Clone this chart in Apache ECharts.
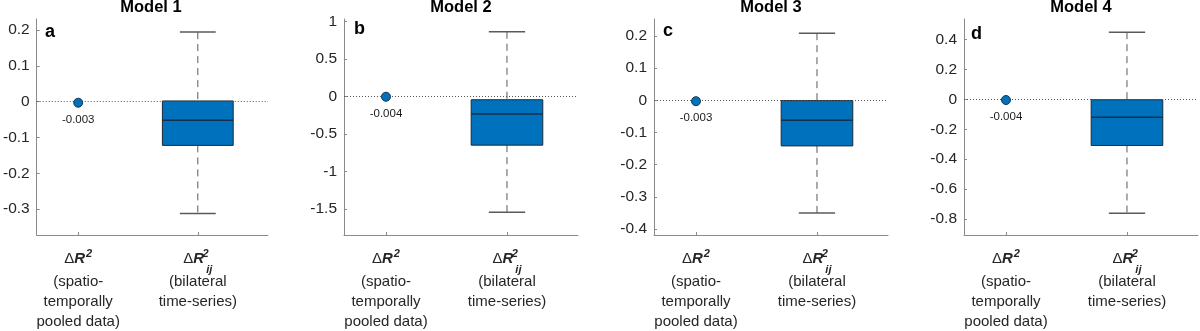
<!DOCTYPE html>
<html><head><meta charset="utf-8">
<script src="https://cdn.jsdelivr.net/npm/echarts@6/dist/echarts.min.js"></script>
<style>html,body{margin:0;padding:0;background:#fff}#c{width:1200px;height:331px}</style>
</head><body><div id="c"></div>
<script>
// ---- data ----
const titles = ['Model 1', 'Model 2', 'Model 3', 'Model 4'];
const letters = ['a', 'b', 'c', 'd'];
const pointValues = [-0.003, -0.004, -0.003, -0.004];
const pointLabels = ['-0.003', '-0.004', '-0.003', '-0.004'];
const boxLow = [-0.312, -1.54, -0.35, -0.762];
const boxQ1 = [-0.122, -0.648, -0.1416, -0.308];
const boxMedian = [-0.052, -0.235, -0.062, -0.12];
const boxQ3 = [0.002, -0.044, -0.001, -0.002];
const boxHigh = [0.194, 0.86, 0.208, 0.45];
const yTicks = [
  [-0.3, -0.2, -0.1, 0, 0.1, 0.2],
  [-1.5, -1, -0.5, 0, 0.5, 1],
  [-0.4, -0.3, -0.2, -0.1, 0, 0.1, 0.2],
  [-0.8, -0.6, -0.4, -0.2, 0, 0.2, 0.4]
];
const yMin = [-0.372, -1.843, -0.418, -0.907];
const yMax = [0.2306, 1.03, 0.252, 0.538];
const catPos = [1, 2];

// ---- layout ----
const FONT = '"Liberation Sans", Arial, Helvetica, sans-serif';
const gridLeft = [34, 344, 654, 964];
const gridTop = 19, gridW = 234, gridH = 216;
const letterDx = [11, 10, 9, 7];
const letterY = [32, 29, 31, 34];
const BLUE = '#0072BD';

const grids = [], xAxes = [], yAxes = [], series = [], graphics = [];

function xLabel(v) {
  if (v === 1) return '{d|Δ}{r|R}{sp|2}\n{t|(spatio-}\n{t|temporally}\n{t|pooled data)}';
  return '{d|Δ}{r|R}{sp2|2}{sb|ij}\n{t|(bilateral}\n{t|time-series)}';
}

for (let i = 0; i < 4; i++) {
  grids.push({left: gridLeft[i], top: gridTop, width: gridW, height: gridH});
  xAxes.push({
    type: 'value', gridIndex: i, min: 0.653, max: 2.587,
    splitLine: {show: false},
    axisLine: {show: true, onZero: false, lineStyle: {color: '#8a8a8a', width: 1}},
    axisTick: {show: true, inside: true, length: 3, customValues: catPos, lineStyle: {color: '#8a8a8a'}},
    axisLabel: {
      show: true, customValues: catPos, margin: 11, verticalAlign: 'top',
      formatter: xLabel,
      rich: {
        d: {fontFamily: FONT, fontSize: 15, color: '#262626', lineHeight: 26},
        r: {fontFamily: FONT, fontSize: 15, fontWeight: 'bold', fontStyle: 'italic', color: '#262626', lineHeight: 26},
        sp: {fontFamily: FONT, fontSize: 11, fontWeight: 'bold', fontStyle: 'italic', color: '#262626', lineHeight: 11, verticalAlign: 'top', padding: [2, 0, 0, 1]},
        sp2: {fontFamily: FONT, fontSize: 11, fontWeight: 'bold', fontStyle: 'italic', color: '#262626', lineHeight: 11, verticalAlign: 'top', padding: [2, 0, 0, 1], width: 1},
        sb: {fontFamily: FONT, fontSize: 11, fontWeight: 'bold', fontStyle: 'italic', color: '#262626', lineHeight: 7, verticalAlign: 'top', padding: [18, 0, 0, 0]},
        t: {fontFamily: FONT, fontSize: 15, color: '#262626', lineHeight: 20}
      }
    }
  });
  yAxes.push({
    type: 'value', gridIndex: i, min: yMin[i], max: yMax[i],
    splitLine: {show: false},
    axisLine: {show: true, onZero: false, lineStyle: {color: '#8a8a8a', width: 1}},
    axisTick: {show: true, inside: true, length: 3, customValues: yTicks[i], lineStyle: {color: '#8a8a8a'}},
    axisLabel: {show: true, customValues: yTicks[i], margin: 7, fontFamily: FONT, fontSize: 15.5, color: '#262626',
      formatter: v => String(v)}
  });
  series.push({
    type: 'custom', xAxisIndex: i, yAxisIndex: i, z: 2, silent: true,
    data: [[catPos[1], boxLow[i], boxQ1[i], boxMedian[i], boxQ3[i], boxHigh[i]]],
    renderItem: function (params, api) {
      const x = api.value(0);
      const pLo = api.coord([x, api.value(1)]);
      const pQ1 = api.coord([x, api.value(2)]);
      const pMed = api.coord([x, api.value(3)]);
      const pQ3 = api.coord([x, api.value(4)]);
      const pHi = api.coord([x, api.value(5)]);
      const half = api.size([0.296, 0])[0];
      const cap = api.size([0.15, 0])[0];
      const cx = pLo[0];
      const wStyle = {stroke: '#5a5a5a', lineWidth: 1, lineDash: [7, 5]};
      const cStyle = {stroke: '#5a5a5a', lineWidth: 1.5};
      return {type: 'group', children: [
        {type: 'line', shape: {x1: cx, y1: pHi[1], x2: cx, y2: pQ3[1]}, style: wStyle},
        {type: 'line', shape: {x1: cx, y1: pQ1[1], x2: cx, y2: pLo[1]}, style: wStyle},
        {type: 'line', shape: {x1: cx - cap, y1: pHi[1], x2: cx + cap, y2: pHi[1]}, style: cStyle},
        {type: 'line', shape: {x1: cx - cap, y1: pLo[1], x2: cx + cap, y2: pLo[1]}, style: cStyle},
        {type: 'rect', shape: {x: cx - half, y: pQ3[1], width: 2 * half, height: pQ1[1] - pQ3[1]},
          style: {fill: BLUE, stroke: '#1e2a36', lineWidth: 1}},
        {type: 'line', shape: {x1: cx - half, y1: pMed[1], x2: cx + half, y2: pMed[1]},
          style: {stroke: '#14304a', lineWidth: 1.5}}
      ]};
    }
  });
  series.push({
    type: 'scatter', xAxisIndex: i, yAxisIndex: i, z: 5, silent: true,
    symbol: 'circle', symbolSize: 9,
    itemStyle: {color: BLUE, borderColor: '#1b3550', borderWidth: 1, opacity: 1},
    data: [[catPos[0], pointValues[i]]],
    label: {show: true, position: 'bottom', distance: 6, formatter: pointLabels[i],
      fontFamily: FONT, fontSize: 11.5, color: '#1a1a1a'},
    markLine: {
      silent: true, symbol: 'none', z: 4,
      label: {show: false},
      lineStyle: {color: '#555', type: [1, 2], width: 1},
      data: [{yAxis: 0}],
      animation: false
    }
  });
  graphics.push({type: 'text', x: gridLeft[i] + gridW / 2, y: 7.5,
    style: {text: titles[i], align: 'center', verticalAlign: 'middle', font: 'bold 16.5px ' + FONT, fill: '#000'}});
  graphics.push({type: 'text', x: gridLeft[i] + letterDx[i], y: letterY[i],
    style: {text: letters[i], align: 'left', verticalAlign: 'middle', font: 'bold 18px ' + FONT, fill: '#000'}});
}

const chart = echarts.init(document.getElementById('c'), null, {renderer: 'canvas'});
chart.setOption({
  animation: false,
  backgroundColor: '#fff',
  grid: grids, xAxis: xAxes, yAxis: yAxes, series: series,
  graphic: graphics
});
</script></body></html>
